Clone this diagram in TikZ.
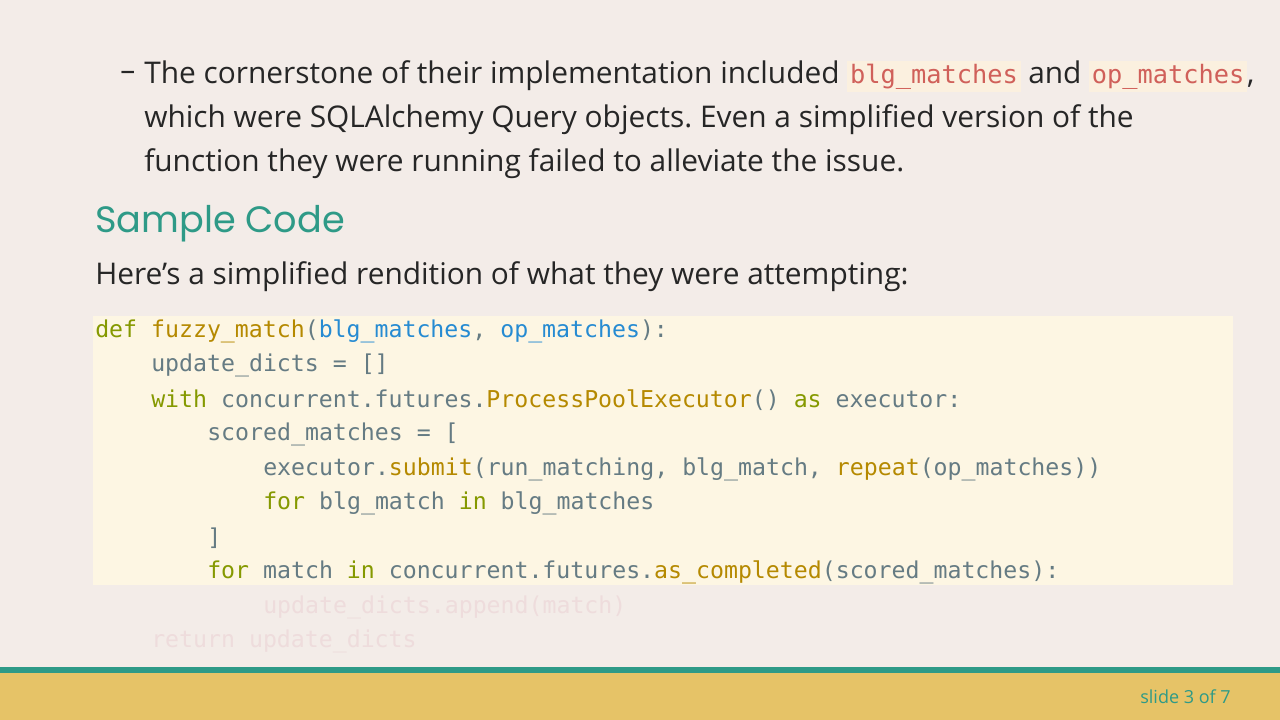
\documentclass[tikz,border=0pt]{standalone}
\usepackage{fontspec}
\setmainfont{Open Sans}
\setmonofont{DejaVu Sans Mono}
\newfontfamily\headfont{Poppins}
\frenchspacing
\definecolor{bg}{HTML}{F3ECE8}
\definecolor{codebg}{HTML}{FDF6E3}
\definecolor{teal}{HTML}{2E9A87}
\definecolor{foot}{HTML}{E6C367}
\definecolor{kw}{HTML}{859900}
\definecolor{fn}{HTML}{B58900}
\definecolor{pa}{HTML}{268BD2}
\definecolor{tx}{HTML}{657B83}
\definecolor{ic}{HTML}{D0605A}
\definecolor{icbg}{HTML}{FBF0DF}
\definecolor{fade}{HTML}{EEDCDC}
\newcommand{\K}[1]{\textcolor{kw}{#1}}
\newcommand{\F}[1]{\textcolor{fn}{#1}}
\newcommand{\Pa}[1]{\textcolor{pa}{#1}}
\newcommand{\IC}[1]{\colorbox{icbg}{\textcolor{ic}{\ttfamily\fontsize{19}{22}\selectfont #1}}}
\begin{document}
\begin{tikzpicture}[x=0.75pt,y=-0.75pt,
  body/.style={anchor=west,inner sep=0pt,font=\fontsize{22.4}{26}\selectfont,text=black!85},
  code/.style={anchor=west,inner sep=0pt,font=\ttfamily\fontsize{17.4}{20}\selectfont,text=tx}]
\fill[bg] (0,0) rectangle (1280,720);
\useasboundingbox (0,0) rectangle (1280,720);
\fill[codebg] (93,316) rectangle (1233,585);
\fill[teal] (0,667) rectangle (1280,673);
\fill[foot] (0,673) rectangle (1280,720);
\node[body] (dash) at (120,76) {–};
\node[body] (l1) at (144,76) {The cornerstone of their implementation included \setlength{\fboxsep}{2pt}\IC{blg\_matches} and \IC{op\_matches},};
\node[body] (l2) at (144,120) {which were SQLAlchemy Query objects. Even a simplified version of the};
\node[body] (l3) at (144,164) {function they were running failed to alleviate the issue.};
\node[anchor=west,inner sep=0pt,font=\headfont\fontsize{27.5}{32}\selectfont,text=teal] (h) at (95,224) {Sample Code};
\node[body] (intro) at (95,277) {Here’s a simplified rendition of what they were attempting:};
\node[code] (c1) at (95,331) {\K{def} \F{fuzzy\_match}(\Pa{blg\_matches}, \Pa{op\_matches}):};
\node[code] (c2) at (151,365) {update\_dicts = []};
\node[code] (c3) at (151,400) {\K{with} concurrent.futures.\F{ProcessPoolExecutor}() \K{as} executor:};
\node[code] (c4) at (207,434) {scored\_matches = [};
\node[code] (c5) at (263,469) {executor.\F{submit}(run\_matching, blg\_match, \F{repeat}(op\_matches))};
\node[code] (c6) at (263,503) {\K{for} blg\_match \K{in} blg\_matches};
\node[code] (c7) at (207,538) {]};
\node[code] (c8) at (207,572) {\K{for} match \K{in} concurrent.futures.\F{as\_completed}(scored\_matches):};
\node[code,text=fade] (c9) at (263,607) {update\_dicts.append(match)};
\node[code,text=fade] (c10) at (151,641) {return update\_dicts};
\node[anchor=east,inner sep=0pt,font=\fontsize{13.5}{15}\selectfont,text=teal] (sl) at (1231,697) {slide 3 of 7};
\end{tikzpicture}
\end{document}
